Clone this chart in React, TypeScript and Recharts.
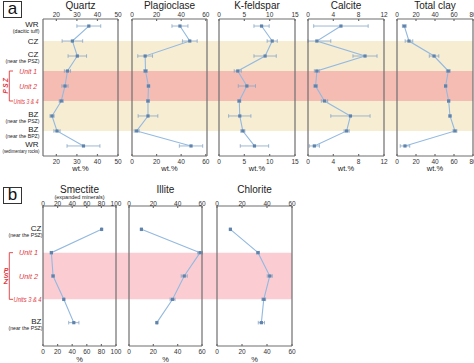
import React from "react";
import { ScatterChart, Scatter, XAxis, YAxis, ErrorBar, ReferenceArea } from "recharts";

// ---- panel a: bulk mineralogy, rows top to bottom ----
const rowsA = [0, 1, 2, 3, 4, 5, 6, 7, 8];
const rowNamesA = ["WR", "CZ", "CZ", "Unit 1", "Unit 2", "Units 3 & 4", "BZ", "BZ", "WR"];
const rowNotesA = ["(dacitic tuff)", "", "(near the PSZ)", "", "", "", "(near the PSZ)", "(near the BPZ)", "(sedimentary rocks)"];

const quartz = [35.8, 27.8, 30.2, 25.4, 24.2, 22.4, 17.9, 20.3, 33.2];
const quartzErr = [5.8, 5, 4.5, 1.5, 1.5, 1, 1, 1.5, 8];
const plagioclase = [39, 47, 10.7, 11, 13.4, 13, 13, 3.8, 48];
const plagioclaseErr = [6.5, 6, 6, 1.5, 1, 1, 8, 2, 9.5];
const kfeldspar = [8.4, 10.5, 9.1, 3.7, 5.5, 4, 4.1, 4.7, 7];
const kfeldsparErr = [1.5, 1, 2.2, 0.7, 1.7, 0.3, 2.2, 0.4, 2.8];
const calcite = [5.2, 1.4, 9.0, 1.4, 1.2, 2.6, 6.7, 6.1, 1.0];
const calciteErr = [4.3, [1.4, 2.2], 1.9, 0.4, 0.3, 0.5, 3.1, 0.4, 0.8];
const totalClay = [7.7, 12.6, 39, 54, 51.2, 54.4, 55.8, 61, 8.4];
const totalClayErr = [2, 4, 5, 2, 1, 1, 1, 2, 5];

// ---- panel b: clay fraction ----
const rowsB = [0, 1, 2, 3, 4];
const rowNamesB = ["CZ", "Unit 1", "Unit 2", "Units 3 & 4", "BZ"];
const rowNotesB = ["(near the PSZ)", "", "", "", "(near the PSZ)"];

const smectite = [80.3, 11.5, 13.8, 28.5, 42.2];
const smectiteErr = [0.5, 1.5, 1.5, 1, 7];
const illite = [10.2, 58.4, 45.4, 35.8, 22.9];
const illiteErr = [0.5, 2, 2.5, 2, 0.5];
const chlorite = [10.7, 32.8, 42.2, 37.4, 35.5];
const chloriteErr = [0.5, 1, 2, 1.5, 2.5];

const FONT = "'Liberation Sans', Arial, sans-serif";
const RED = "#e2383d";
const BEIGE = "#f7edd3";
const LINE = "#93b9e0";
const MARK = "#5f83ab";
const ERR = "#86a6c8";
const BOX = "#6e6e6e";
const XH = 10;

// rough width of a string in Arial-like glyphs, used to squeeze long labels into the margin
const approxWidth = (s: string, size: number) => s.length * size * 0.47;

function RowTick(props: any) {
  const { x, y, payload, names, notes, pitch, mainDy, noteDy, noteSize, blackX, redX, redSize, rotatePsz } = props;
  const i = payload.value;
  const name = names[i];
  const note = notes[i];
  const isUnit = name.startsWith("Unit");
  if (isUnit) {
    const showBracket = name === "Unit 2";
    const right = name.length > 6 ? x + blackX : x + redX;
    const room = right - 13.5;
    const squeeze = approxWidth(name, redSize) > room;
    return (
      <g>
        <text
          x={right}
          y={y + 2.6}
          textAnchor="end"
          fontSize={redSize}
          fontStyle="italic"
          fill={RED}
          fontFamily={FONT}
          textLength={squeeze ? room : undefined}
          lengthAdjust={squeeze ? "spacingAndGlyphs" : undefined}
        >
          {name}
        </text>
        {showBracket && (
          <g>
            <polyline
              points={`13,${y - pitch} 9.3,${y - pitch} 9.3,${y + pitch} 13,${y + pitch}`}
              fill="none"
              stroke={RED}
              strokeWidth={0.9}
            />
            {rotatePsz ? (
              <text
                x={8}
                y={y - 1}
                transform={`rotate(-90, 8, ${y - 1})`}
                textAnchor="middle"
                fontSize={6.5}
                fontWeight="bold"
                fontStyle="italic"
                letterSpacing={1.5}
                fill={RED}
                fontFamily={FONT}
              >
                PSZ
              </text>
            ) : (
              <text x={6} y={y} textAnchor="middle" fontSize={7} fontWeight="bold" fontStyle="italic" fill={RED} fontFamily={FONT}>
                <tspan x={6} dy={-3.4}>P</tspan>
                <tspan x={6} dy={5.7}>S</tspan>
                <tspan x={6} dy={5.7}>Z</tspan>
              </text>
            )}
          </g>
        )}
      </g>
    );
  }
  const noteRight = x + blackX + 1;
  const noteRoom = noteRight - 2.5;
  const noteSqueeze = note && approxWidth(note, noteSize) > noteRoom;
  return (
    <g fontFamily={FONT}>
      <text x={x + blackX} y={note ? y + mainDy : y + 2.8} textAnchor="end" fontSize={8} fill="#222">
        {name}
      </text>
      {note && (
        <text
          x={noteRight}
          y={y + noteDy}
          textAnchor="end"
          fontSize={noteSize}
          fill="#222"
          textLength={noteSqueeze ? noteRoom : undefined}
          lengthAdjust={noteSqueeze ? "spacingAndGlyphs" : undefined}
        >
          {note}
        </text>
      )}
    </g>
  );
}

function Backdrop(props: any) {
  const { top, height, boxTop, boxBottom, boxLeft, boxRight, yDomain, rows, bands } = props;
  const pitch = (boxBottom - boxTop) / (yDomain[1] - yDomain[0]);
  // invisible anchor points so the chart has something to lay out
  const anchors = rows.map((r: number) => ({ x: 0.5, row: r }));
  return (
    <div style={{ position: "absolute", left: 0, top }}>
      <ScatterChart
        width={boxRight + 1}
        height={height}
        margin={{ top: boxTop - top, bottom: top + height - boxBottom, left: 0, right: 1 }}
      >
        <XAxis type="number" dataKey="x" domain={[0, 1]} allowDataOverflow hide />
        <YAxis
          type="number"
          dataKey="row"
          domain={yDomain}
          allowDataOverflow
          reversed
          ticks={rows}
          interval={0}
          width={boxLeft}
          axisLine={false}
          tickLine={false}
          tickSize={0}
          tickMargin={0}
          tick={<RowTick pitch={pitch} {...props.tickProps} />}
        />
        {bands.map((b: any, i: number) => (
          <ReferenceArea key={i} x1={0} x2={1} y1={b.from} y2={b.to} fill={b.color} fillOpacity={1} stroke="none" ifOverflow="visible" />
        ))}
        <Scatter data={anchors} isAnimationActive={false} fill="none" shape={() => <g />} />
      </ScatterChart>
    </div>
  );
}

function TopTitle(props: any) {
  const { viewBox, title, subtitle, gap } = props;
  const cx = viewBox.x + viewBox.width / 2;
  const base = viewBox.y + viewBox.height - gap;
  return (
    <g fontFamily={FONT} fill="#222">
      <text x={cx} y={base} textAnchor="middle" fontSize={10}>
        {title}
      </text>
      {subtitle && (
        <text x={cx} y={base + 5.5} textAnchor="middle" fontSize={5.5}>
          {subtitle}
        </text>
      )}
    </g>
  );
}

function BottomTitle(props: any) {
  const { viewBox, text, gap } = props;
  const cx = viewBox.x + viewBox.width / 2;
  return (
    <text x={cx} y={viewBox.y + gap} textAnchor="middle" fontSize={7.5} fill="#222" fontFamily={FONT}>
      {text}
    </text>
  );
}

function MineralChart(props: any) {
  const { cfg, top, height, boxTop, boxBottom, yDomain, rows, titleGap, topTickMargin, unit } = props;
  const PAD = 14;
  const width = cfg.right - cfg.left + 2 * PAD;
  const data = rows.map((r: number, i: number) => ({ row: r, v: cfg.values[i], err: cfg.errors[i] }));
  const tickStyle = { fontSize: 6.5, fill: "#333", fontFamily: FONT };
  return (
    <div style={{ position: "absolute", left: cfg.left - PAD, top }}>
      <ScatterChart
        width={width}
        height={height}
        margin={{ top: boxTop - top - XH, bottom: top + height - boxBottom - XH, left: PAD - 1, right: PAD - 1 }}
      >
        <XAxis
          xAxisId="t"
          orientation="top"
          type="number"
          dataKey="v"
          domain={cfg.domain}
          allowDataOverflow
          ticks={cfg.ticks}
          interval={0}
          height={XH}
          stroke={BOX}
          strokeWidth={1.2}
          tickSize={-2}
          tickMargin={topTickMargin}
          tick={tickStyle}
          label={<TopTitle title={cfg.title} subtitle={cfg.subtitle} gap={titleGap} />}
        />
        <XAxis
          xAxisId="b"
          orientation="bottom"
          type="number"
          dataKey="v"
          domain={cfg.domain}
          allowDataOverflow
          ticks={cfg.ticks}
          interval={0}
          height={XH}
          stroke={BOX}
          strokeWidth={1.2}
          tickSize={-2}
          tickMargin={5.7}
          tick={tickStyle}
          label={<BottomTitle text={unit} gap={unit === "%" ? 16 : 15} />}
        />
        <YAxis
          yAxisId="l"
          orientation="left"
          type="number"
          dataKey="row"
          domain={yDomain}
          allowDataOverflow
          reversed
          ticks={rows}
          width={1}
          stroke={BOX}
          strokeWidth={1.2}
          tick={false}
          tickLine={false}
        />
        <YAxis
          yAxisId="r"
          orientation="right"
          type="number"
          dataKey="row"
          domain={yDomain}
          allowDataOverflow
          reversed
          ticks={rows}
          width={1}
          stroke={BOX}
          strokeWidth={1.2}
          tick={false}
          tickSize={-2.5}
        />
        <Scatter
          xAxisId="b"
          yAxisId="l"
          data={data}
          isAnimationActive={false}
          line={{ stroke: LINE, strokeWidth: 1.1 }}
          shape={(p: any) => <rect x={p.cx - 1.6} y={p.cy - 1.6} width={3.2} height={3.2} fill={MARK} />}
        >
          <ErrorBar dataKey="err" direction="x" width={1.8} stroke={ERR} strokeWidth={0.8} />
        </Scatter>
      </ScatterChart>
    </div>
  );
}

const panelA = [
  { title: "Quartz", values: quartz, errors: quartzErr, domain: [13.5, 50], ticks: [20, 30, 40, 50], left: 43, right: 118 },
  { title: "Plagioclase", values: plagioclase, errors: plagioclaseErr, domain: [0, 61], ticks: [0, 20, 40, 60], left: 132, right: 207 },
  { title: "K-feldspar", values: kfeldspar, errors: kfeldsparErr, domain: [0, 15], ticks: [0, 5, 10, 15], left: 219, right: 295 },
  { title: "Calcite", values: calcite, errors: calciteErr, domain: [0, 12], ticks: [0, 4, 8, 12], left: 308, right: 384 },
  { title: "Total clay", values: totalClay, errors: totalClayErr, domain: [0, 80], ticks: [0, 20, 40, 60, 80], left: 397, right: 473 },
];

const panelB = [
  { title: "Smectite", subtitle: "(expanded minerals)", values: smectite, errors: smectiteErr, domain: [0, 100], ticks: [0, 20, 40, 60, 80, 100], left: 43, right: 116 },
  { title: "Illite", values: illite, errors: illiteErr, domain: [0, 60], ticks: [0, 20, 40, 60], left: 129, right: 202 },
  { title: "Chlorite", values: chlorite, errors: chloriteErr, domain: [0, 60], ticks: [0, 20, 40, 60], left: 217, right: 292 },
];

const A = { top: 0, height: 178, boxTop: 19, boxBottom: 156, yDomain: [-0.47, 8.67] };
const B = { top: 180, height: 183, boxTop: 206, boxBottom: 346, yDomain: [-1, 5] };

function PanelTag({ text, left, top }: any) {
  return (
    <div
      style={{
        position: "absolute",
        left,
        top,
        width: 17,
        height: 15,
        border: "1px solid #333",
        fontFamily: FONT,
        fontSize: 17,
        lineHeight: "14px",
        textAlign: "center",
        color: "#111",
      }}
    >
      {text}
    </div>
  );
}

export default function App() {
  return (
    <div style={{ position: "absolute", left: 0, top: 0, width: 474, height: 363, background: "#fff", overflow: "hidden", fontFamily: FONT }}>
      <Backdrop
        {...A}
        boxLeft={43}
        boxRight={473}
        rows={rowsA}
        bands={[
          { from: 1, to: 7, color: BEIGE },
          { from: 3, to: 5, color: "#f5bcb4" },
        ]}
        tickProps={{ names: rowNamesA, notes: rowNotesA, mainDy: 1.3, noteDy: 7, noteSize: 5.2, blackX: -4.5, redX: -6, redSize: 6.8, rotatePsz: true }}
      />
      <Backdrop
        {...B}
        boxLeft={43}
        boxRight={292}
        rows={rowsB}
        bands={[{ from: 1, to: 3, color: "#fbcdd3" }]}
        tickProps={{ names: rowNamesB, notes: rowNotesB, mainDy: 1.4, noteDy: 7.4, noteSize: 5.2, blackX: -1.5, redX: -5, redSize: 7.3, rotatePsz: false }}
      />
      {panelA.map((cfg) => (
        <MineralChart key={cfg.title} cfg={cfg} {...A} rows={rowsA} titleGap={10} topTickMargin={3.7} unit="wt.%" />
      ))}
      {panelB.map((cfg) => (
        <MineralChart key={cfg.title} cfg={cfg} {...B} rows={rowsB} titleGap={13} topTickMargin={2.4} unit="%" />
      ))}
      <PanelTag text="a" left={3} top={1} />
      <PanelTag text="b" left={3} top={187} />
    </div>
  );
}
